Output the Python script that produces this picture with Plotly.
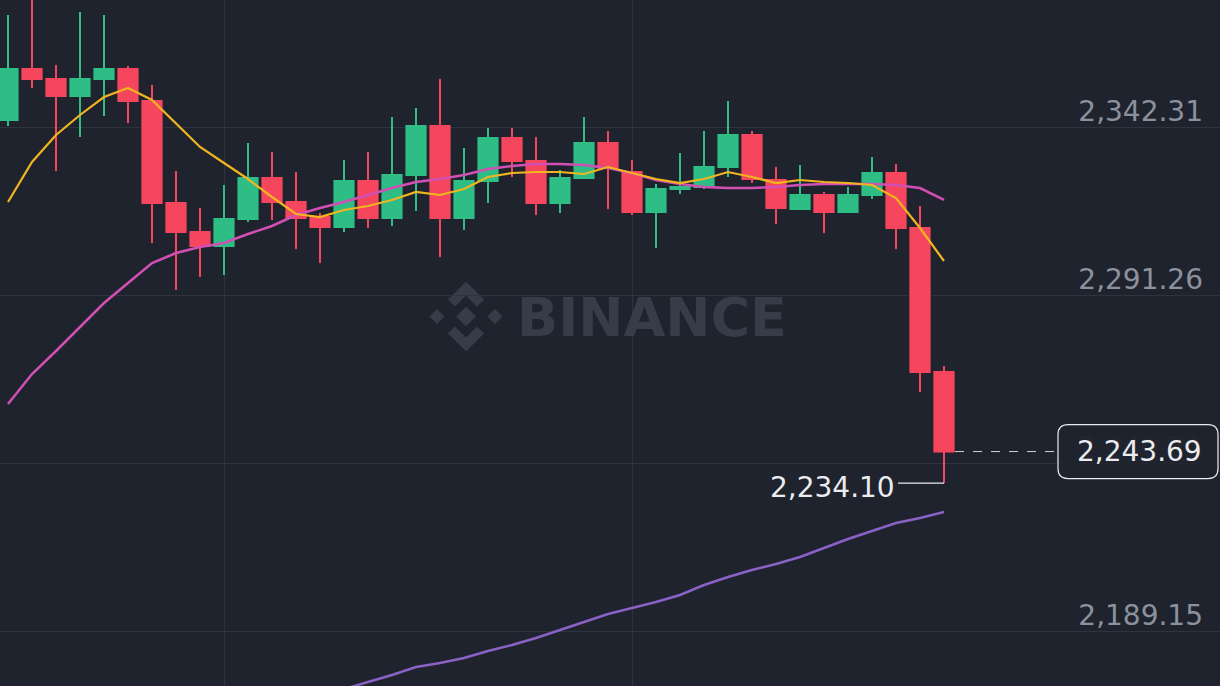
import plotly.graph_objects as go

# ---------------- data ----------------
candle_idx = list(range(40))
opens = [2344.44, 2359.93, 2356.89, 2351.73, 2356.89, 2359.93, 2350.21, 2319.21, 2310.40, 2306.15,
         2314.35, 2326.81, 2319.52, 2314.96, 2311.92, 2325.90, 2314.66, 2327.72, 2342.61, 2314.66,
         2325.90, 2338.97, 2331.98, 2319.21, 2326.81, 2337.45, 2328.63, 2316.48, 2323.47, 2324.08,
         2330.15, 2339.88, 2326.20, 2317.39, 2321.65, 2316.48, 2321.65, 2328.33, 2311.62, 2267.86]
highs = [2376.34, 2382.42, 2361.15, 2377.25, 2376.34, 2360.84, 2355.07, 2328.94, 2317.70, 2324.68,
         2337.45, 2334.71, 2328.63, 2316.18, 2332.28, 2334.71, 2345.35, 2348.08, 2356.89, 2335.93,
         2342.00, 2342.00, 2339.27, 2329.24, 2345.35, 2341.09, 2332.28, 2324.99, 2334.41, 2341.09,
         2350.21, 2341.09, 2330.15, 2330.76, 2322.56, 2324.08, 2333.19, 2331.07, 2318.30, 2269.68]
lows = [2342.61, 2354.16, 2328.94, 2339.27, 2345.65, 2343.52, 2307.06, 2292.78, 2296.73, 2297.34,
        2313.44, 2314.05, 2305.24, 2300.98, 2310.40, 2311.62, 2312.23, 2316.78, 2302.81, 2311.01,
        2319.21, 2327.12, 2315.57, 2316.18, 2326.81, 2317.39, 2315.57, 2305.54, 2321.95, 2323.47,
        2327.12, 2325.29, 2312.83, 2317.09, 2310.10, 2316.18, 2320.43, 2305.24, 2261.78, 2234.10]
closes = [2359.93, 2356.89, 2351.73, 2356.89, 2359.93, 2350.21, 2319.21, 2310.40, 2306.15, 2314.35,
          2326.81, 2319.52, 2314.66, 2311.92, 2325.90, 2314.66, 2327.72, 2342.61, 2314.66, 2325.90,
          2338.97, 2331.98, 2319.21, 2326.81, 2337.45, 2329.85, 2316.48, 2323.47, 2324.08, 2330.15,
          2339.88, 2326.51, 2317.70, 2321.65, 2316.48, 2321.65, 2328.33, 2311.62, 2267.86, 2243.69]

ma7 = [2319.52, 2331.67, 2339.88, 2345.96, 2351.42, 2354.16, 2350.51, 2343.52, 2336.23, 2331.37,
       2326.51, 2321.04, 2315.87, 2314.96, 2317.09, 2318.30, 2320.13, 2322.56, 2321.65, 2323.47,
       2327.12, 2328.33, 2328.63, 2328.63, 2328.03, 2330.15, 2328.33, 2326.51, 2325.29, 2326.51,
       2328.63, 2327.12, 2325.29, 2326.20, 2325.60, 2325.29, 2324.68, 2320.73, 2311.62, 2301.59]
ma25 = [2258.14, 2267.25, 2274.24, 2281.53, 2288.83, 2294.90, 2300.98, 2304.02, 2305.84, 2307.06,
        2309.79, 2312.23, 2315.57, 2317.70, 2319.52, 2321.65, 2323.77, 2325.60, 2326.51, 2327.72,
        2329.55, 2330.46, 2331.07, 2331.07, 2330.76, 2329.85, 2328.33, 2326.20, 2324.99, 2324.08,
        2323.77, 2323.77, 2324.08, 2324.68, 2324.99, 2324.99, 2324.99, 2324.68, 2323.77, 2320.13]
ma99 = [None] * 13 + [2169.10, 2171.53, 2173.66, 2175.79, 2178.22, 2179.43, 2180.95, 2183.08,
                      2184.90, 2187.03, 2189.46, 2191.89, 2194.32, 2196.15, 2197.97, 2200.10,
                      2203.14, 2205.57, 2207.69, 2209.52, 2211.64, 2214.38, 2217.11, 2219.55,
                      2221.98, 2223.50, 2225.32]

time_grid = [9, 26]
price_ticks = [2189.15, 2240.21, 2291.26, 2342.31]
price_tick_text = ["2,189.15", "<span style='color:#3b404c'>2,240.21</span>", "2,291.26", "2,342.31"]
last_price = closes[-1]
low_price = lows[-1]
last_price_text = "2,243.69"
low_price_text = "2,234.10"

# ---------------- styles ----------------
BG = "#1f232e"
GRID = "#2e333e"
UP = "#2ebd85"
DOWN = "#f6465d"
TICK = "#8b919d"
WHITE = "#eaecef"
WM = "#363c48"
FONT = "DejaVu Sans"

W, H = 1220, 686

fig = go.Figure()
fig.add_trace(go.Candlestick(
    x=candle_idx, open=opens, high=highs, low=lows, close=closes,
    increasing=dict(fillcolor=UP, line=dict(color=UP, width=2)),
    decreasing=dict(fillcolor=DOWN, line=dict(color=DOWN, width=2)),
    whiskerwidth=0, hoverinfo="skip", showlegend=False,
))
fig.add_trace(go.Scatter(x=candle_idx, y=ma99, mode="lines",
                         line=dict(color="#8a62c6", width=2.5), hoverinfo="skip"))
fig.add_trace(go.Scatter(x=candle_idx, y=ma25, mode="lines",
                         line=dict(color="#d24fb4", width=2.5), hoverinfo="skip"))
fig.add_trace(go.Scatter(x=candle_idx, y=ma7, mode="lines",
                         line=dict(color="#f0b51f", width=2.2), hoverinfo="skip"))

fig.update_layout(
    width=W, height=H,
    margin=dict(l=0, r=0, t=0, b=0, pad=0),
    paper_bgcolor=BG, plot_bgcolor=BG,
    showlegend=False, hovermode=False,
    boxgap=0.2, boxgroupgap=0,
)
fig.update_xaxes(
    range=[-1 / 3, -1 / 3 + W / 24], tickvals=time_grid, showticklabels=False,
    showgrid=True, gridcolor=GRID, gridwidth=1, zeroline=False, showline=False,
    ticks="", rangeslider=dict(visible=False), fixedrange=True,
)
fig.update_yaxes(
    range=[2172.45, 2380.90], side="right", tickvals=price_ticks, ticktext=price_tick_text,
    ticklabelposition="inside", ticklabelshift=-16, ticklabelstandoff=14,
    tickfont=dict(family=FONT, size=28, color=TICK),
    showgrid=True, gridcolor=GRID, gridwidth=1, zeroline=False, showline=False,
    ticks="", fixedrange=True,
)

# ---------------- watermark ----------------
def pix_path(points):
    # points given as (dx, dy_down) pixel offsets from anchor
    return "M " + " L ".join(f"{dx},{-dy}" for dx, dy in points) + " Z"

logo_parts = [
    [(0, -10), (10, 0), (0, 10), (-10, 0)],            # centre diamond
    [(-29, -7.5), (-21.5, 0), (-29, 7.5), (-36.5, 0)],  # left diamond
    [(29, -7.5), (36.5, 0), (29, 7.5), (21.5, 0)],      # right diamond
    [(0, -35), (18, -17), (11, -10), (0, -21), (-11, -10), (-18, -17)],  # top chevron
    [(0, 35), (18, 17), (11, 10), (0, 21), (-11, 10), (-18, 17)],        # bottom chevron
]
for part in logo_parts:
    fig.add_shape(type="path", xref="paper", yref="paper", xsizemode="pixel", ysizemode="pixel",
                  xanchor=466 / W, yanchor=1 - 316.5 / H, path=pix_path(part),
                  fillcolor=WM, line=dict(width=0), layer="below")
fig.add_annotation(x=652 / W, y=1 - 317 / H, xref="paper", yref="paper", showarrow=False,
                   xanchor="center", yanchor="middle",
                   text="<b>BINANCE</b>", font=dict(family=FONT, size=54, color=WM))

# ---------------- last price line + label ----------------
fig.add_shape(type="line", xref="x", yref="y", x0=candle_idx[-1] + 0.46, x1=43.75,
              y0=last_price, y1=last_price, line=dict(color="#d0d3d8", width=1, dash="dash"),
              layer="above")
r = 10
x0b, x1b, y0b, y1b = -162, -2, -27, 27
box = (f"M {x0b + r},{y0b} L {x1b - r},{y0b} Q {x1b},{y0b} {x1b},{y0b + r} "
       f"L {x1b},{y1b - r} Q {x1b},{y1b} {x1b - r},{y1b} L {x0b + r},{y1b} "
       f"Q {x0b},{y1b} {x0b},{y1b - r} L {x0b},{y0b + r} Q {x0b},{y0b} {x0b + r},{y0b} Z")
fig.add_shape(type="path", xref="paper", yref="y", xsizemode="pixel", ysizemode="pixel",
              xanchor=1, yanchor=last_price, path=box,
              fillcolor="rgba(31,35,46,0.88)", line=dict(color=WHITE, width=1.2), layer="above")
fig.add_annotation(x=1139 / W, xref="paper", y=last_price, yref="y", showarrow=False,
                   xanchor="center", yanchor="middle",
                   text=last_price_text, font=dict(family=FONT, size=28, color=WHITE))

# ---------------- low marker ----------------
fig.add_shape(type="line", xref="x", yref="y", x0=candle_idx[-1] - 46 / 24, x1=candle_idx[-1],
              y0=low_price, y1=low_price, line=dict(color=WHITE, width=1.2), layer="above")
fig.add_annotation(x=candle_idx[-1], y=low_price, xref="x", yref="y", showarrow=False,
                   xanchor="right", yanchor="middle", xshift=-47, yshift=-4,
                   text=low_price_text, font=dict(family=FONT, size=28, color=WHITE))

fig.write_html("out.html", config={"displayModeBar": False},
               post_script="document.body.style.margin='0px';document.body.style.background='#1f232e';")
